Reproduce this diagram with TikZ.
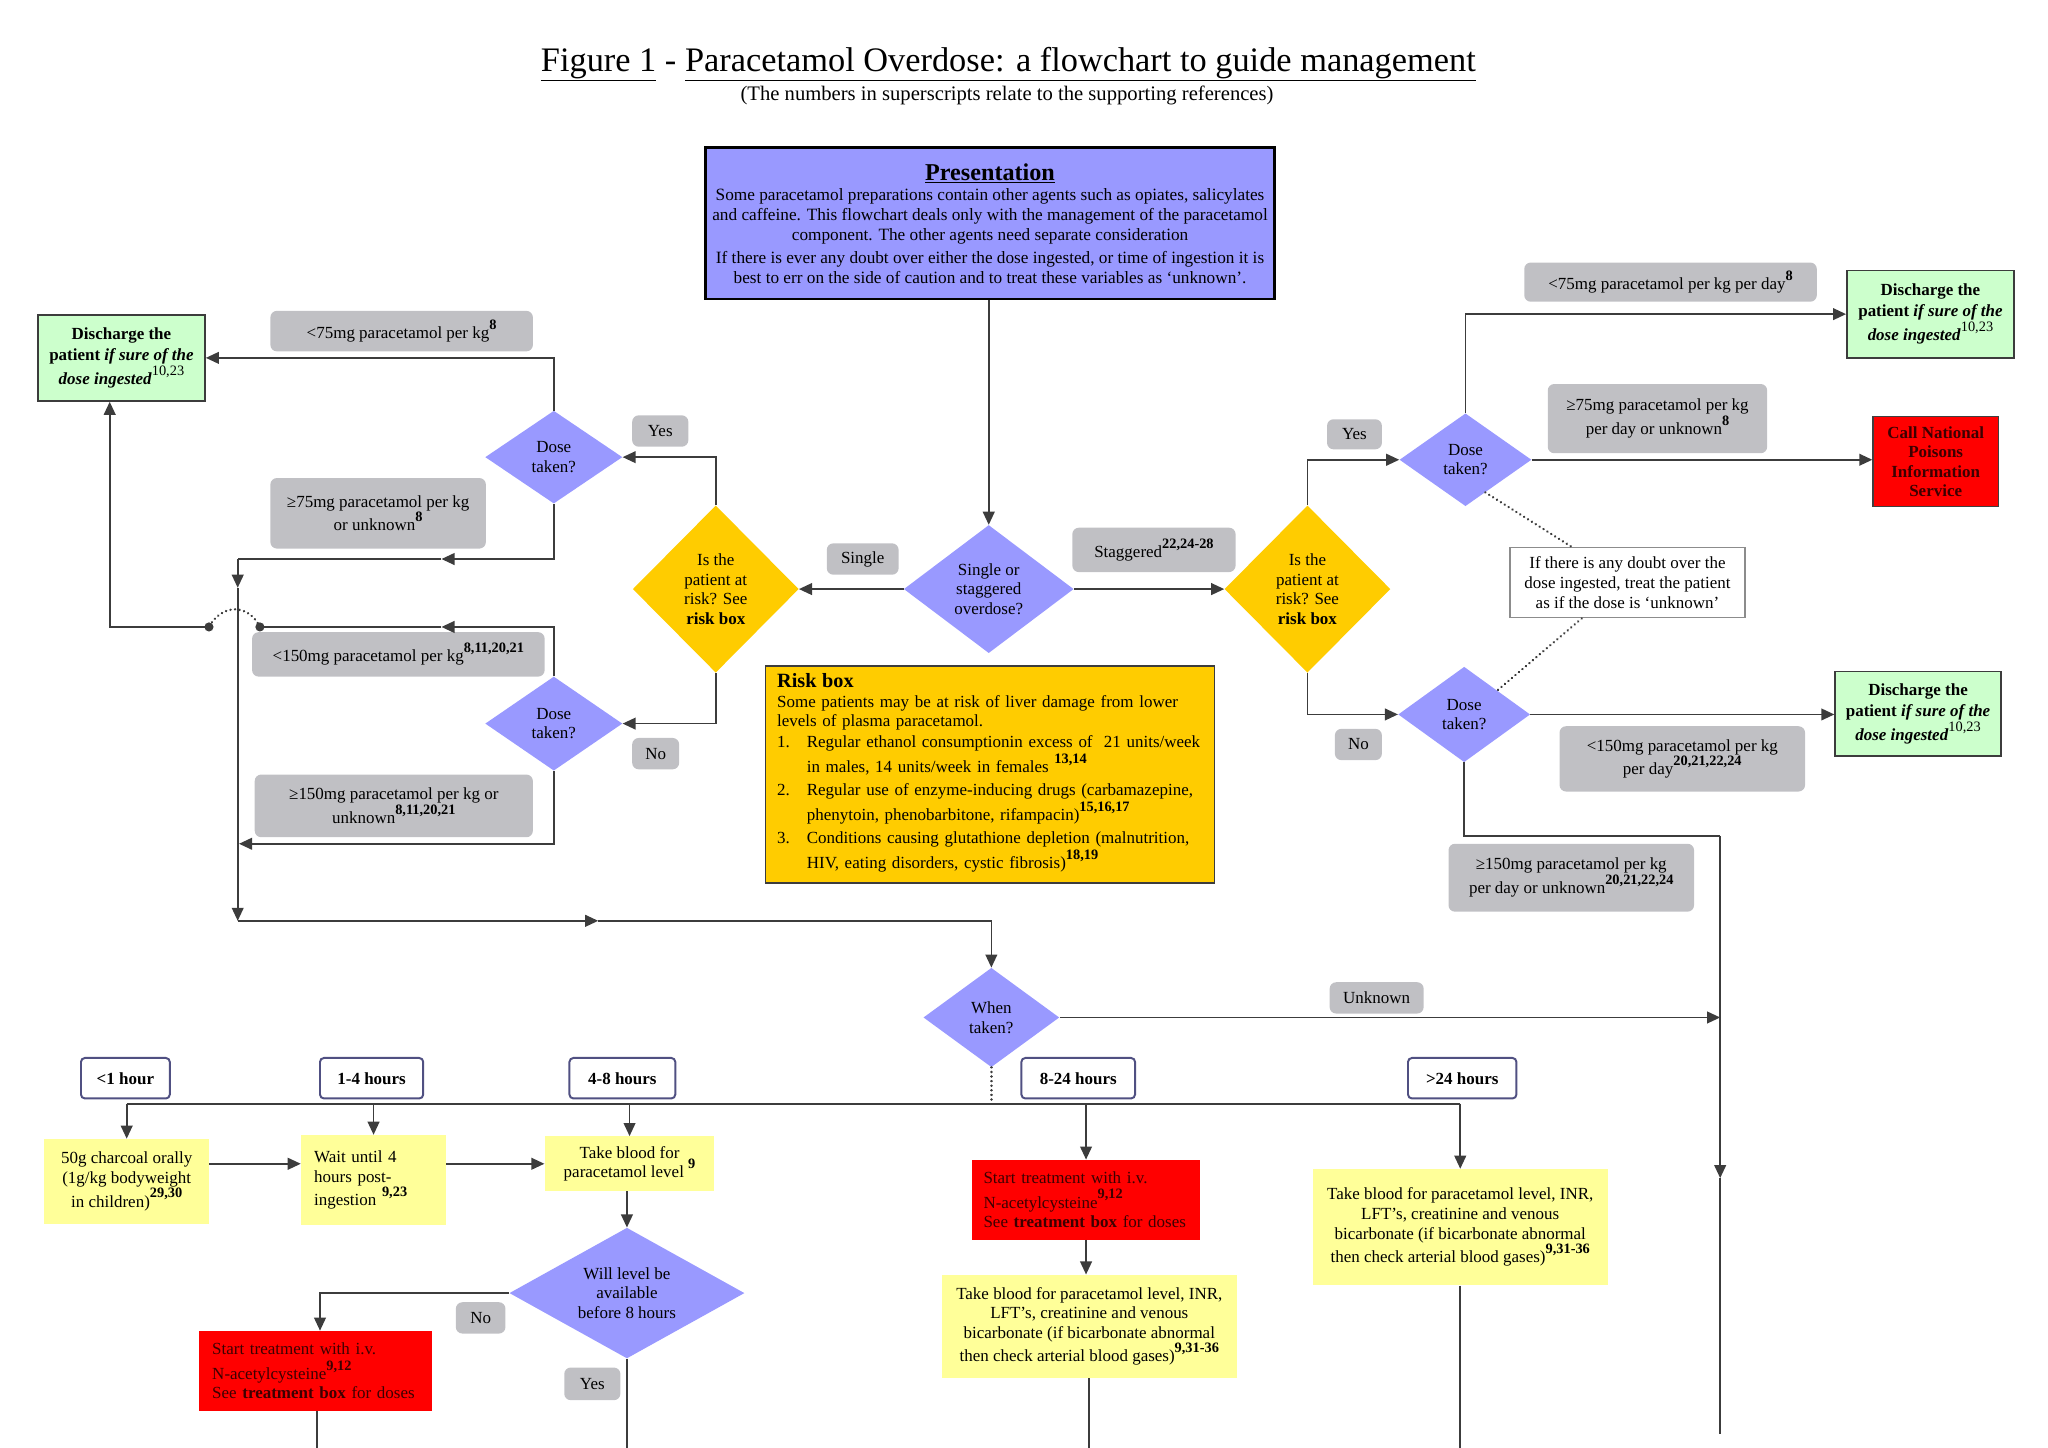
\documentclass[tikz,border=0pt]{standalone}
\usepackage{fontspec}
\setmainfont{Liberation Serif}
\usetikzlibrary{shapes.geometric,arrows.meta,calc}
\definecolor{lav}{RGB}{153,153,255}
\definecolor{gold}{RGB}{255,204,0}
\definecolor{lblgray}{RGB}{192,192,196}
\definecolor{mint}{RGB}{204,255,204}
\definecolor{pale}{RGB}{255,255,153}
\definecolor{alarm}{RGB}{255,0,0}
\definecolor{linec}{RGB}{60,60,60}
\definecolor{tlborder}{RGB}{80,80,130}
\definecolor{redtext}{RGB}{60,0,0}
\newcommand\myref[1]{\raisebox{7pt}{\fontsize{11}{11}\selectfont\bfseries #1}}
\newcommand\myrefn[1]{\raisebox{7pt}{\fontsize{11}{11}\selectfont\mdseries\upshape #1}}
\begin{document}
\begin{tikzpicture}[x=1pt,y=-1pt,
  every node/.style={font=\fontsize{13}{15}\selectfont, inner sep=0pt},
  ln/.style={draw=linec, line width=1.3pt},
  arr/.style={ln, -{Triangle[length=10pt,width=9pt]}},
  dotln/.style={draw=linec, line width=2pt, dash pattern=on 0.01pt off 3.5pt, line cap=round},
  lbl/.style={fill=lblgray, rounded corners=5pt, align=center},
  dia/.style={diamond, fill=lav, align=center},
  riskd/.style={diamond, fill=gold, align=center},
  grn/.style={rectangle, draw=linec, line width=1.2pt, fill=mint, align=center, font=\fontsize{13}{16}\selectfont\bfseries},
  ylw/.style={rectangle, fill=pale, align=center},
  redb/.style={rectangle, fill=alarm, text=redtext, align=left},
  tl/.style={rectangle, draw=tlborder, line width=1.5pt, rounded corners=3pt, fill=white, font=\fontsize{13}{15}\selectfont\bfseries},
]
\useasboundingbox (0,0) rectangle (1568,1108.6);

% ---------- titles
\node[font=\fontsize{26.3}{30}\selectfont] (title) at (772,49) {\underline{Figure 1} - \underline{Paracetamol Overdose: a flowchart to guide management}};
\node[font=\fontsize{15.8}{18}\selectfont] (sub) at (771,73) {(The numbers in superscripts relate to the supporting references)};

% ---------- presentation
\node[draw=black, line width=2pt, fill=lav, minimum width=436pt, minimum height=116pt, align=center, font=\fontsize{13.2}{15}\selectfont] (pres) at (758,171)
{{\fontsize{18.5}{20}\selectfont\bfseries\underline{Presentation}}\\[1pt]
Some paracetamol preparations contain other agents such as opiates, salicylates\\
and caffeine. This flowchart deals only with the management of the paracetamol\\
component. The other agents need separate consideration\\[3pt]
If there is ever any doubt over either the dose ingested, or time of ingestion it is\\
best to err on the side of caution and to treat these variables as ‘unknown’.};

% ---------- central decisions
\node[dia, minimum width=130pt, minimum height=98pt, aspect=1.33] (sso) at (757,451) {Single or\\staggered\\overdose?};
\node[lbl, minimum width=55pt, minimum height=24pt] (lsingle) at (660.5,428) {Single};
\node[lbl, minimum width=125pt, minimum height=34pt] (lstag) at (883.5,421) {Staggered\myref{22,24-28}};
\node[riskd, minimum width=127pt, minimum height=128pt] (riskL) at (548,451) {Is the\\patient at\\risk? See\\\textbf{risk box}};
\node[riskd, minimum width=127pt, minimum height=128pt] (riskR) at (1001,451) {Is the\\patient at\\risk? See\\\textbf{risk box}};

% ---------- left branch
\node[dia, minimum width=105pt, minimum height=71pt, aspect=1.48] (d1) at (424,350) {Dose\\taken?};
\node[lbl, minimum width=43pt, minimum height=24pt] (lyesL) at (505.5,330) {Yes};
\node[lbl, minimum width=201pt, minimum height=31pt] (l75) at (307.5,253.5) {<75mg paracetamol per kg\myref{8}};
\node[grn, minimum width=128pt, minimum height=66pt] (gL) at (93,274) {Discharge the\\patient \textit{if sure of the}\\\textit{dose ingested}\myrefn{10,23}};
\node[lbl, minimum width=165pt, minimum height=54pt] (lge75) at (289.5,393) {≥75mg paracetamol per kg\\or unknown\myref{8}};

\node[dia, minimum width=105pt, minimum height=72pt, aspect=1.46] (d2) at (424,554) {Dose\\taken?};
\node[lbl, minimum width=36pt, minimum height=24pt] (lnoL) at (502,577) {No};
\node[lbl, minimum width=224pt, minimum height=34pt] (l150) at (305,501) {<150mg paracetamol per kg\myref{8,11,20,21}};
\node[lbl, minimum width=213pt, minimum height=48pt] (lge150) at (301.5,617) {≥150mg paracetamol per kg or\\unknown\myref{8,11,20,21}};

% ---------- right branch
\node[dia, minimum width=101pt, minimum height=71pt, aspect=1.42] (d3) at (1122,352) {Dose\\taken?};
\node[lbl, minimum width=42pt, minimum height=23pt] (lyesR) at (1037,332.5) {Yes};
\node[lbl, minimum width=224pt, minimum height=30pt] (l75d) at (1279,216) {<75mg paracetamol per kg per day\myref{8}};
\node[grn, minimum width=128pt, minimum height=67pt] (gR1) at (1478,240.5) {Discharge the\\patient \textit{if sure of the}\\\textit{dose ingested}\myrefn{10,23}};
\node[lbl, minimum width=168pt, minimum height=53pt] (lge75d) at (1269,320.5) {≥75mg paracetamol per kg\\per day or unknown\myref{8}};
\node[rectangle, draw=black!75, line width=1pt, fill=alarm, text=redtext, align=center, minimum width=96pt, minimum height=69pt, font=\fontsize{13}{15}\selectfont\bfseries] (call) at (1482,353.5) {Call National\\Poisons\\Information\\Service};
\node[rectangle, draw=black!45, line width=1pt, fill=white, align=center, minimum width=180pt, minimum height=54pt] (note) at (1246,446) {If there is any doubt over the\\dose ingested, treat the patient\\as if the dose is ‘unknown’};

\node[dia, minimum width=101pt, minimum height=73pt, aspect=1.38] (d4) at (1121,547) {Dose\\taken?};
\node[lbl, minimum width=36pt, minimum height=24pt] (lnoR) at (1040,570) {No};
\node[lbl, minimum width=188pt, minimum height=50pt] (l150d) at (1288,581) {<150mg paracetamol per kg\\per day\myref{20,21,22,24}};
\node[grn, minimum width=127pt, minimum height=65pt] (gR2) at (1468.5,546.5) {Discharge the\\patient \textit{if sure of the}\\\textit{dose ingested}\myrefn{10,23}};
\node[lbl, minimum width=188pt, minimum height=52pt] (lge150d) at (1203,672) {≥150mg paracetamol per kg\\per day or unknown\myref{20,21,22,24}};

% ---------- risk box
\node[rectangle, draw=linec, line width=1.2pt, fill=gold, minimum width=344pt, minimum height=166pt, text width=326pt, align=left] (riskbox) at (758,593)
{{\fontsize{15.5}{18}\selectfont\bfseries Risk box}\\
Some patients may be at risk of liver damage from lower\\
levels of plasma paracetamol.\\
{\renewcommand\arraystretch{1.15}%
\begin{tabular}{@{}l@{\hspace{13pt}}l@{}}
1. & Regular ethanol consumptionin excess of \ 21 units/week\\
   & in males, 14 units/week in females \myref{13,14}\\
2. & Regular use of enzyme-inducing drugs (carbamazepine,\\
   & phenytoin, phenobarbitone, rifampacin)\myref{15,16,17}\\
3. & Conditions causing glutathione depletion (malnutrition,\\
   & HIV, eating disorders, cystic fibrosis)\myref{18,19}
\end{tabular}}};

% ---------- when taken
\node[dia, minimum width=104pt, minimum height=76pt, aspect=1.37] (when) at (759,779) {When\\taken?};
\node[lbl, minimum width=72pt, minimum height=24pt] (lunk) at (1054,764) {Unknown};

\node[tl, minimum width=68pt, minimum height=31pt] (t1) at (96,825.5) {<1 hour};
\node[tl, minimum width=79pt, minimum height=31pt] (t2) at (284.5,825.5) {1-4 hours};
\node[tl, minimum width=81pt, minimum height=31pt] (t3) at (476.5,825.5) {4-8 hours};
\node[tl, minimum width=87pt, minimum height=31pt] (t4) at (825.5,825.5) {8-24 hours};
\node[tl, minimum width=83pt, minimum height=31pt] (t5) at (1119.5,825.5) {>24 hours};

% ---------- time branches
\node[ylw, minimum width=126pt, minimum height=65pt] (ch) at (97,904.5) {50g charcoal orally\\(1g/kg bodyweight\\in children)\myref{29,30}};
\node[ylw, minimum width=111pt, minimum height=69pt, text width=91pt, align=left] (wt) at (286,903.5) {Wait until 4\\hours post-\\ingestion \myref{9,23}};
\node[ylw, minimum width=130pt, minimum height=42pt] (tb) at (482,891) {Take blood for\\paracetamol level \myref{9}};
\node[dia, minimum width=180pt, minimum height=100pt, aspect=1.8] (will) at (480,990) {Will level be\\available\\before 8 hours};
\node[lbl, minimum width=38pt, minimum height=24pt] (lnoW) at (368,1009) {No};
\node[lbl, minimum width=43pt, minimum height=25pt] (lyesW) at (453.5,1059.5) {Yes};
\node[redb, minimum width=179pt, minimum height=61pt, text width=158pt] (rL) at (241.5,1049.5) {Start treatment with i.v.\\[4pt]N-acetylcysteine\myref{9,12}\\See \textbf{treatment box} for doses};
\node[redb, minimum width=175pt, minimum height=61pt, text width=157pt] (rM) at (831.5,918.5) {Start treatment with i.v.\\[4pt]N-acetylcysteine\myref{9,12}\\See \textbf{treatment box} for doses};
\node[ylw, minimum width=226pt, minimum height=79pt] (yM) at (834,1015.5) {Take blood for paracetamol level, INR,\\LFT’s, creatinine and venous\\bicarbonate (if bicarbonate abnormal\\then check arterial blood gases)\myref{9,31-36}};
\node[ylw, minimum width=226pt, minimum height=89pt] (yR) at (1118,939.5) {Take blood for paracetamol level, INR,\\LFT’s, creatinine and venous\\bicarbonate (if bicarbonate abnormal\\then check arterial blood gases)\myref{9,31-36}};

% ---------- coordinates
\coordinate (c1) at (338,428);
\coordinate (j1) at (182,428);
\coordinate (c2) at (182,450);
\coordinate (j3) at (182,705);
\coordinate (c3) at (458,705);
\coordinate (c4) at (338,480);
\coordinate (dotR) at (199,480);
\coordinate (dotL) at (160,480);
\coordinate (c5) at (183,646);
\coordinate (rj) at (1317,640);
\coordinate (ra) at (1317,902);
\coordinate (rend) at (1317,1098);
\coordinate (bus) at (0,845);
\coordinate (bot) at (0,1108.6);

% ---------- connectors: top
\draw[arr] (pres.south -| sso.north) -- (sso.north);
\draw[arr] (sso.west) -- (riskL.east);
\draw[arr] (sso.east) -- (riskR.west);

% left
\draw[arr] (riskL.north) |- (d1.east);
\draw[arr] (d1.north) |- (gL.east);
\draw[arr] (d1.south) |- (c1);
\draw[ln] (c1) -- (j1);
\draw[arr] (j1) -- (c2);
\draw[arr] (c2) -- (j3);
\draw[arr] (j3) -- (c3);
\draw[ln] (c3) -| ($(when.north)+(0,-0.1)$);
\draw[arr] (when.north |- j3) -- (when.north);
\draw[arr] (riskL.south) |- (d2.east);
\draw[arr] (d2.north) |- (c4);
\draw[ln] (c4) -- (dotR);
\draw[dotln] (dotR) .. controls (190,462) and (170,462) .. (dotL);
\fill[linec] (dotR) circle (3.5pt) (dotL) circle (3.5pt);
\draw[arr] (dotL) -| ([xshift=-9pt]gL.south);
\draw[arr] (d2.south) |- (c5);

% right
\draw[arr] (riskR.north) |- (d3.west);
\draw[arr] (d3.north) |- (gR1.west);
\draw[arr] (d3.east) -- (d3.east -| call.west);
\draw[dotln] ($(d3.south)!0.3!(d3.east)$) -- ([xshift=-43pt]note.north);
\draw[dotln] ([xshift=-35pt]note.south) -- ($(d4.north)!0.5!(d4.east)$);
\draw[arr] (riskR.south) |- (d4.west);
\draw[arr] (d4.east) -- (d4.east -| gR2.west);
\draw[ln] (d4.south) |- (rj);
\draw[arr] (rj) -- (ra);
\draw[ln] (ra) -- (rend);
\draw[arr] (when.east) -- (when.east -| rj);

% time bus
\draw[dotln] (when.south) -- ([yshift=2pt]when.south |- bus);
\draw[ln] (ch.north |- bus) -- (yR.north |- bus);
\draw[arr] (ch.north |- bus) -- (ch.north);
\draw[arr] (wt.north |- bus) -- (wt.north);
\draw[arr] (tb.north |- bus) -- (tb.north);
\draw[arr] (rM.north |- bus) -- (rM.north);
\draw[arr] (yR.north |- bus) -- (yR.north);
\draw[arr] (ch.east |- tb.west) -- (wt.west |- tb.west);
\draw[arr] (wt.east |- tb.west) -- (tb.west);
\draw[arr] (will.north |- tb.south) -- (will.north);
\draw[arr] (will.west) -| ([xshift=3.5pt]rL.north);
\draw[ln] ([xshift=1pt]rL.south) -- ([xshift=1pt]rL.south |- bot);
\draw[ln] (will.south) -- (will.south |- bot);
\draw[arr] (rM.south) -- (rM.south |- yM.north);
\draw[ln] (yM.south) -- (yM.south |- bot);
\draw[ln] (yR.south) -- (yR.south |- bot);
\end{tikzpicture}
\end{document}
